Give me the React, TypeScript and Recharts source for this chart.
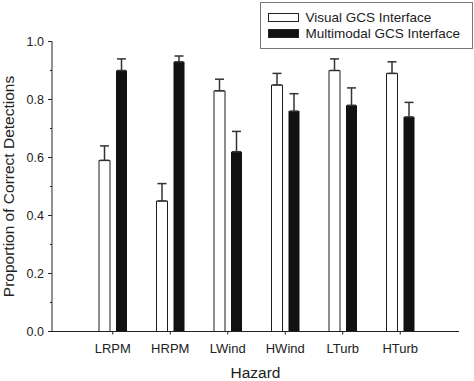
import React from 'react';
import { BarChart, Bar, XAxis, YAxis, ErrorBar } from 'recharts';

const HAZARDS = ['LRPM', 'HRPM', 'LWind', 'HWind', 'LTurb', 'HTurb'];
const VISUAL = [0.59, 0.45, 0.83, 0.85, 0.9, 0.89];
const VISUAL_ERR = [0.05, 0.06, 0.04, 0.04, 0.04, 0.04];
const MULTIMODAL = [0.9, 0.93, 0.62, 0.76, 0.78, 0.74];
const MULTIMODAL_ERR = [0.04, 0.02, 0.07, 0.06, 0.06, 0.05];
const SERIES = ['Visual GCS Interface', 'Multimodal GCS Interface'];
const SERIES_FILL = ['#ffffff', '#111111'];
const Y_TICKS = [0, 0.1, 0.2, 0.3, 0.4, 0.5, 0.6, 0.7, 0.8, 0.9, 1.0];

const FONT = '"Liberation Sans", Arial, sans-serif';

// one-sided (upward only) error bars
const data = HAZARDS.map((h, i) => ({
  hazard: h,
  visual: VISUAL[i],
  visualErr: [0, VISUAL_ERR[i]],
  multimodal: MULTIMODAL[i],
  multimodalErr: [0, MULTIMODAL_ERR[i]],
}));

// y ticks: labelled majors, short unlabelled minors
const YTick = (props: any) => {
  const { x, y, payload } = props;
  const major = Math.round(payload.value * 10) % 2 === 0;
  return (
    <g>
      <line x1={x - (major ? 4 : 2)} x2={x} y1={y} y2={y} stroke="#222" />
      {major && (
        <text x={x - 8} y={y} dy="0.36em" textAnchor="end" fontSize={12.5} fill="#222" fontFamily={FONT}>
          {payload.value.toFixed(1)}
        </text>
      )}
    </g>
  );
};

const App: React.FC = () => {
  return (
    <div style={{ position: 'relative', width: 474, height: 381, background: '#fff', fontFamily: FONT }}>
      <style>{'body{margin:0}'}</style>
      <BarChart
        width={474}
        height={381}
        data={data}
        margin={{ top: 41.5, right: 15, bottom: 0, left: 0 }}
        barSize={11}
        barGap={6}
      >
        <XAxis
          dataKey="hazard"
          padding={{ left: 32, right: 30 }}
          height={49.5}
          stroke="#222"
          tickSize={3}
          tickMargin={9}
          tick={{ fontSize: 13, fill: '#222', fontFamily: FONT }}
          label={{ value: 'Hazard', position: 'insideBottom', offset: 3, fontSize: 15.5, fill: '#222', fontFamily: FONT }}
        />
        <YAxis
          width={52}
          domain={[0, 1]}
          ticks={Y_TICKS}
          interval={0}
          stroke="#222"
          tickLine={false}
          tickSize={0}
          tickMargin={0}
          tick={<YTick />}
          label={{
            value: 'Proportion of Correct Detections',
            angle: -90,
            position: 'center',
            dx: -17.5,
            fontSize: 15.5,
            fill: '#222',
            fontFamily: FONT,
          }}
        />
        <Bar dataKey="visual" name={SERIES[0]} fill={SERIES_FILL[0]} stroke="#1a1a1a" strokeWidth={1} isAnimationActive={false}>
          <ErrorBar dataKey="visualErr" width={4.5} stroke="#333" strokeWidth={1.5} direction="y" isAnimationActive={false} />
        </Bar>
        <Bar dataKey="multimodal" name={SERIES[1]} fill={SERIES_FILL[1]} isAnimationActive={false}>
          <ErrorBar dataKey="multimodalErr" width={4.5} stroke="#333" strokeWidth={1.5} direction="y" isAnimationActive={false} />
        </Bar>
      </BarChart>

      {/* legend box, top right */}
      <div
        style={{
          position: 'absolute',
          left: 260,
          top: 2,
          width: 213,
          height: 47,
          boxSizing: 'border-box',
          border: '1.5px solid #777',
          background: '#fff',
        }}
      >
        {SERIES.map((s, i) => (
          <div
            key={s}
            style={{ position: 'absolute', left: 6.5, top: 6.3 + i * 16, height: 16, display: 'flex', alignItems: 'center' }}
          >
            <span style={{ display: 'inline-block', width: 29, height: 7, border: '1px solid #222', background: SERIES_FILL[i] }} />
            <span style={{ marginLeft: 7, fontSize: 13.5, color: '#222', whiteSpace: 'nowrap' }}>{s}</span>
          </div>
        ))}
      </div>
    </div>
  );
};

export default App;
